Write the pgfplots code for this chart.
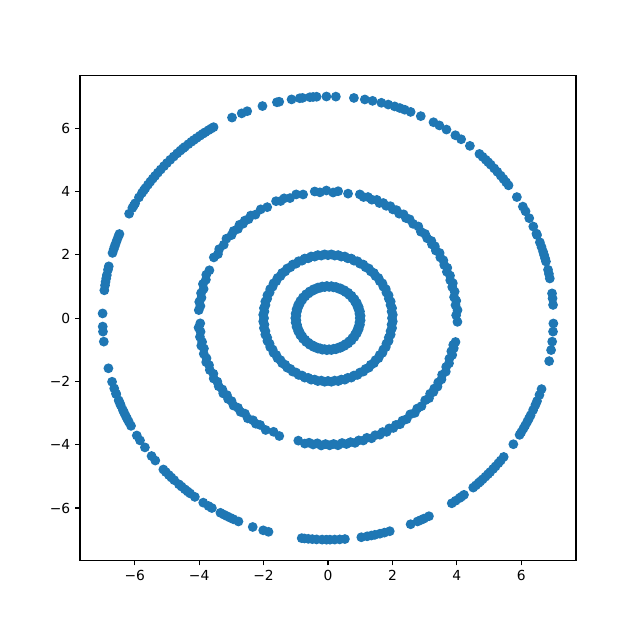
\documentclass[border=0pt]{standalone}
\usepackage{fontspec}
\setmainfont{DejaVu Sans}
\usepackage{pgfplots}
\pgfplotsset{compat=1.18}
\definecolor{tabblue}{HTML}{1F77B4}
\begin{document}
\begin{tikzpicture}
\begin{axis}[
  name=ax,
  scale only axis,
  width=4.96in, height=4.85in,
  xmin=-7.7, xmax=7.7, ymin=-7.66, ymax=7.66,
  axis line style={line width=0.8bp},
  tick align=outside,
  xtick pos=bottom, ytick pos=left,
  major tick length=3.5bp,
  tick style={line width=0.8bp, black},
  xtick={-6,-4,-2,0,2,4,6},
  ytick={-6,-4,-2,0,2,4,6},
  xticklabels={−6,−4,−2,0,2,4,6},
  yticklabels={−6,−4,−2,0,2,4,6},
  tick label style={font=\fontsize{10}{12}\selectfont},
  clip=false,
]
% ring r = 7 (angle in degrees, radius)
\addplot[only marks, mark=*, mark size=3bp, line width=1bp, color=tabblue, data cs=polar] coordinates {
(3.4,7) (5.1,7) (6.4,7) (10.3,7) (11.5,7) (12.6,7) (14.8,7) (15.6,7) (16.5,7) (17.4,7) (18.7,7) (20,7) (22,7) (22.4,7) (24.4,7) (26.8,7) (28.8,7) (30.2,7) (33.1,7) (36.8,7) (37.8,7) (38.9,7) (40,7) (41.3,7) (42.5,7) (43.8,7) (44.7,7) (45.6,7) (46.7,7) (47.8,7) (51,7) (53.8,7) (55.6,7) (58.3,7) (60.4,7) (62.1,7) (65.7,7) (68.5,7) (70.1,7) (71.4,7) (72.8,7) (74.5,7) (76.3,7) (78.6,7) (80.6,7) (83.4,7) (88,7) (90.4,7) (92.9,7) (93.8,7) (94.6,7) (96.5,7) (97.2,7) (99.3,7) (102.5,7) (103.1,7) (106.9,7) (111,7) (112.5,7) (115.2,7) (120.5,7) (121.2,7) (122,7) (123,7) (123.7,7) (124.6,7) (125.6,7) (126.5,7) (127.3,7) (128.3,7) (129.4,7) (130,7) (130.9,7) (132,7) (133.2,7) (134.4,7) (135.6,7) (136.7,7) (137.9,7) (139,7) (140.1,7) (141,7) (142,7) (143,7) (144.1,7) (144.8,7) (145.6,7) (147,7) (148.8,7) (149.5,7) (150.2,7) (151.9,7) (157.7,7) (158.4,7) (159.5,7) (160.5,7) (161.2,7) (161.9,7) (162.9,7) (166.5,7) (167.4,7) (168.8,7) (169.7,7) (170.6,7) (171.5,7) (172.8,7) (178.8,7) (182.2,7) (183.5,7) (186.1,7) (193.1,7) (196.7,7) (198.5,7) (199.9,7) (200.1,7) (201.8,7) (202.5,7) (203.2,7) (204.5,7) (205.3,7) (206.2,7) (207,7) (207.9,7) (209.1,7) (212,7) (213.5,7) (215.7,7) (218.5,7) (220,7) (223.1,7) (224,7) (225.1,7) (226,7) (227,7) (228.6,7) (229.5,7) (230.6,7) (231.5,7) (232.3,7) (233.8,7) (236.4,7) (238,7) (239,7) (241.5,7) (242.5,7) (243.4,7) (244.3,7) (245.2,7) (246.6,7) (250.5,7) (253.3,7) (254.7,7) (263.3,7) (264,7) (265,7) (266,7) (267.1,7) (268.5,7) (269.6,7) (270.5,7) (271.7,7) (273,7) (274.3,7) (278.5,7) (280,7) (281.1,7) (282,7) (283.3,7) (284.5,7) (285.9,7) (291.5,7) (293.4,7) (294.3,7) (295.2,7) (296.6,7) (303.3,7) (304.5,7) (305.7,7) (306.3,7) (307.1,7) (310.1,7) (311,7) (311.9,7) (312.5,7) (313.3,7) (314.3,7) (315.2,7) (316,7) (317.1,7) (318,7) (319.1,7) (320,7) (321.2,7) (325.3,7) (328.2,7) (329,7) (330.1,7) (331,7) (332.1,7) (333,7) (334,7) (335.5,7) (336.9,7) (338,7) (339.7,7) (341.3,7) (348.8,7) (351.7,7) (353.9,7) (356.5,7) (358.6,7)
};
% ring r = 4
\addplot[only marks, mark=*, mark size=3bp, line width=1bp, color=tabblue, data cs=polar] coordinates {
(358.3,4.02) (1.3,3.98) (3.6,4.03) (5.9,3.98) (7.8,4.02) (9.6,3.97) (12,4.02) (14.3,3.98) (15.9,4.03) (17.5,3.98) (19.5,4.02) (21.6,3.97) (23.2,4.03) (24.9,3.98) (27,4.02) (28.8,3.98) (30.7,4.03) (32.5,3.97) (34.4,4.02) (35.8,3.98) (37.2,4.03) (39.3,3.98) (41.4,4.02) (43.4,3.97) (45.9,4.03) (48.4,3.98) (50.9,4.02) (52.6,3.98) (54.4,4.03) (56.2,3.97) (58,4.02) (59.6,3.98) (61.3,4.03) (63,3.98) (64.7,4.02) (66.3,3.97) (67.9,4.03) (70,3.98) (72,4.02) (73.9,3.98) (75.8,4.03) (81,3.98) (85.5,4.02) (87.7,3.97) (90.7,4.03) (93.6,3.98) (95.9,4.02) (101.2,3.98) (104.2,4.03) (107.3,3.97) (109.8,4.02) (111.7,3.98) (113.6,4.03) (118.3,3.98) (121.3,4.02) (124.6,3.97) (126.5,4.03) (128.3,3.98) (130,4.02) (131.5,3.98) (133,4.03) (134.8,3.97) (136.8,4.02) (138.8,3.98) (141.5,4.03) (144.4,3.98) (147.2,4.02) (149.4,3.97) (151.6,4.03) (157.7,3.98) (160.1,4.02) (162.3,3.98) (164.5,4.03) (166.6,3.97) (168.7,4.02) (170.7,3.98) (172.7,4.03) (174.5,3.98) (176.4,4.02) (182.4,3.97) (184.3,4.03) (186.2,3.98) (188.5,4.02) (190.9,3.98) (192.5,4.03) (194,3.97) (196.3,4.02) (198.6,3.98) (200.2,4.03) (201.9,3.98) (204.1,4.02) (206.3,3.97) (208.3,4.03) (210.3,3.98) (212.4,4.02) (214.5,3.98) (216.2,4.03) (217.8,3.97) (219.5,4.02) (221.2,3.98) (223.3,4.03) (225.4,3.98) (227.5,4.02) (229.5,3.97) (231.8,4.03) (234.2,3.98) (236.1,4.02) (238,3.98) (241.3,4.03) (244.8,3.97) (247.9,4.02) (256.6,3.98) (259.7,4.03) (261.5,3.98) (263.4,4.02) (265.2,3.97) (267,4.03) (268.9,3.98) (270.7,4.02) (272.5,3.98) (274.4,4.03) (276.3,3.97) (278.2,4.02) (280.1,3.98) (282,4.03) (283.9,3.98) (285.8,4.02) (287.7,3.97) (289.6,4.03) (291.6,3.98) (293.6,4.02) (295.2,3.98) (296.9,4.03) (298.6,3.97) (300.3,4.02) (302,3.98) (303.7,4.03) (305.5,3.98) (307.4,4.02) (310,3.97) (312,4.03) (314.1,3.98) (316.2,4.02) (319.3,3.98) (321.1,4.03) (323,3.97) (324.5,4.02) (326,3.98) (327.5,4.03) (329.3,3.98) (331.2,4.02) (333.2,3.97) (335.2,4.03) (337.2,3.98) (339.2,4.02) (341.2,3.98) (343.2,4.03) (344.7,3.97) (346.3,4.02) (347.7,3.98) (349.2,4.03)
};
% ring r = 2
\addplot[only marks, mark=*, mark size=3bp, line width=1bp, color=tabblue, data cs=polar] coordinates {
(0,1.985) (3,2.015) (6,1.985) (9,2.015) (12,1.985) (15,2.015) (18,1.985) (21,2.015) (24,1.985) (27,2.015) (30,1.985) (33,2.015) (36,1.985) (39,2.015) (42,1.985) (45,2.015) (48,1.985) (51,2.015) (54,1.985) (57,2.015) (60,1.985) (63,2.015) (66,1.985) (69,2.015) (72,1.985) (75,2.015) (78,1.985) (81,2.015) (84,1.985) (87,2.015) (90,1.985) (93,2.015) (96,1.985) (99,2.015) (102,1.985) (105,2.015) (108,1.985) (111,2.015) (114,1.985) (117,2.015) (120,1.985) (123,2.015) (126,1.985) (129,2.015) (132,1.985) (135,2.015) (138,1.985) (141,2.015) (144,1.985) (147,2.015) (150,1.985) (153,2.015) (156,1.985) (159,2.015) (162,1.985) (165,2.015) (168,1.985) (171,2.015) (174,1.985) (177,2.015) (180,1.985) (183,2.015) (186,1.985) (189,2.015) (192,1.985) (195,2.015) (198,1.985) (201,2.015) (204,1.985) (207,2.015) (210,1.985) (213,2.015) (216,1.985) (219,2.015) (222,1.985) (225,2.015) (228,1.985) (231,2.015) (234,1.985) (237,2.015) (240,1.985) (243,2.015) (246,1.985) (249,2.015) (252,1.985) (255,2.015) (258,1.985) (261,2.015) (264,1.985) (267,2.015) (270,1.985) (273,2.015) (276,1.985) (279,2.015) (282,1.985) (285,2.015) (288,1.985) (291,2.015) (294,1.985) (297,2.015) (300,1.985) (303,2.015) (306,1.985) (309,2.015) (312,1.985) (315,2.015) (318,1.985) (321,2.015) (324,1.985) (327,2.015) (330,1.985) (333,2.015) (336,1.985) (339,2.015) (342,1.985) (345,2.015) (348,1.985) (351,2.015) (354,1.985) (357,2.015)
};
% ring r = 1
\addplot[only marks, mark=*, mark size=3bp, line width=1bp, color=tabblue, data cs=polar] coordinates {
(0,0.985) (4,1.015) (8,0.985) (12,1.015) (16,0.985) (20,1.015) (24,0.985) (28,1.015) (32,0.985) (36,1.015) (40,0.985) (44,1.015) (48,0.985) (52,1.015) (56,0.985) (60,1.015) (64,0.985) (68,1.015) (72,0.985) (76,1.015) (80,0.985) (84,1.015) (88,0.985) (92,1.015) (96,0.985) (100,1.015) (104,0.985) (108,1.015) (112,0.985) (116,1.015) (120,0.985) (124,1.015) (128,0.985) (132,1.015) (136,0.985) (140,1.015) (144,0.985) (148,1.015) (152,0.985) (156,1.015) (160,0.985) (164,1.015) (168,0.985) (172,1.015) (176,0.985) (180,1.015) (184,0.985) (188,1.015) (192,0.985) (196,1.015) (200,0.985) (204,1.015) (208,0.985) (212,1.015) (216,0.985) (220,1.015) (224,0.985) (228,1.015) (232,0.985) (236,1.015) (240,0.985) (244,1.015) (248,0.985) (252,1.015) (256,0.985) (260,1.015) (264,0.985) (268,1.015) (272,0.985) (276,1.015) (280,0.985) (284,1.015) (288,0.985) (292,1.015) (296,0.985) (300,1.015) (304,0.985) (308,1.015) (312,0.985) (316,1.015) (320,0.985) (324,1.015) (328,0.985) (332,1.015) (336,0.985) (340,1.015) (344,0.985) (348,1.015) (352,0.985) (356,1.015)
};
\end{axis}
\path (ax.south west) ++(-0.8in,-0.693in) coordinate (bbA);
\path (ax.north east) ++(0.64in,0.756in) coordinate (bbB);
\path (bbA) rectangle (bbB);
\end{tikzpicture}
\end{document}
